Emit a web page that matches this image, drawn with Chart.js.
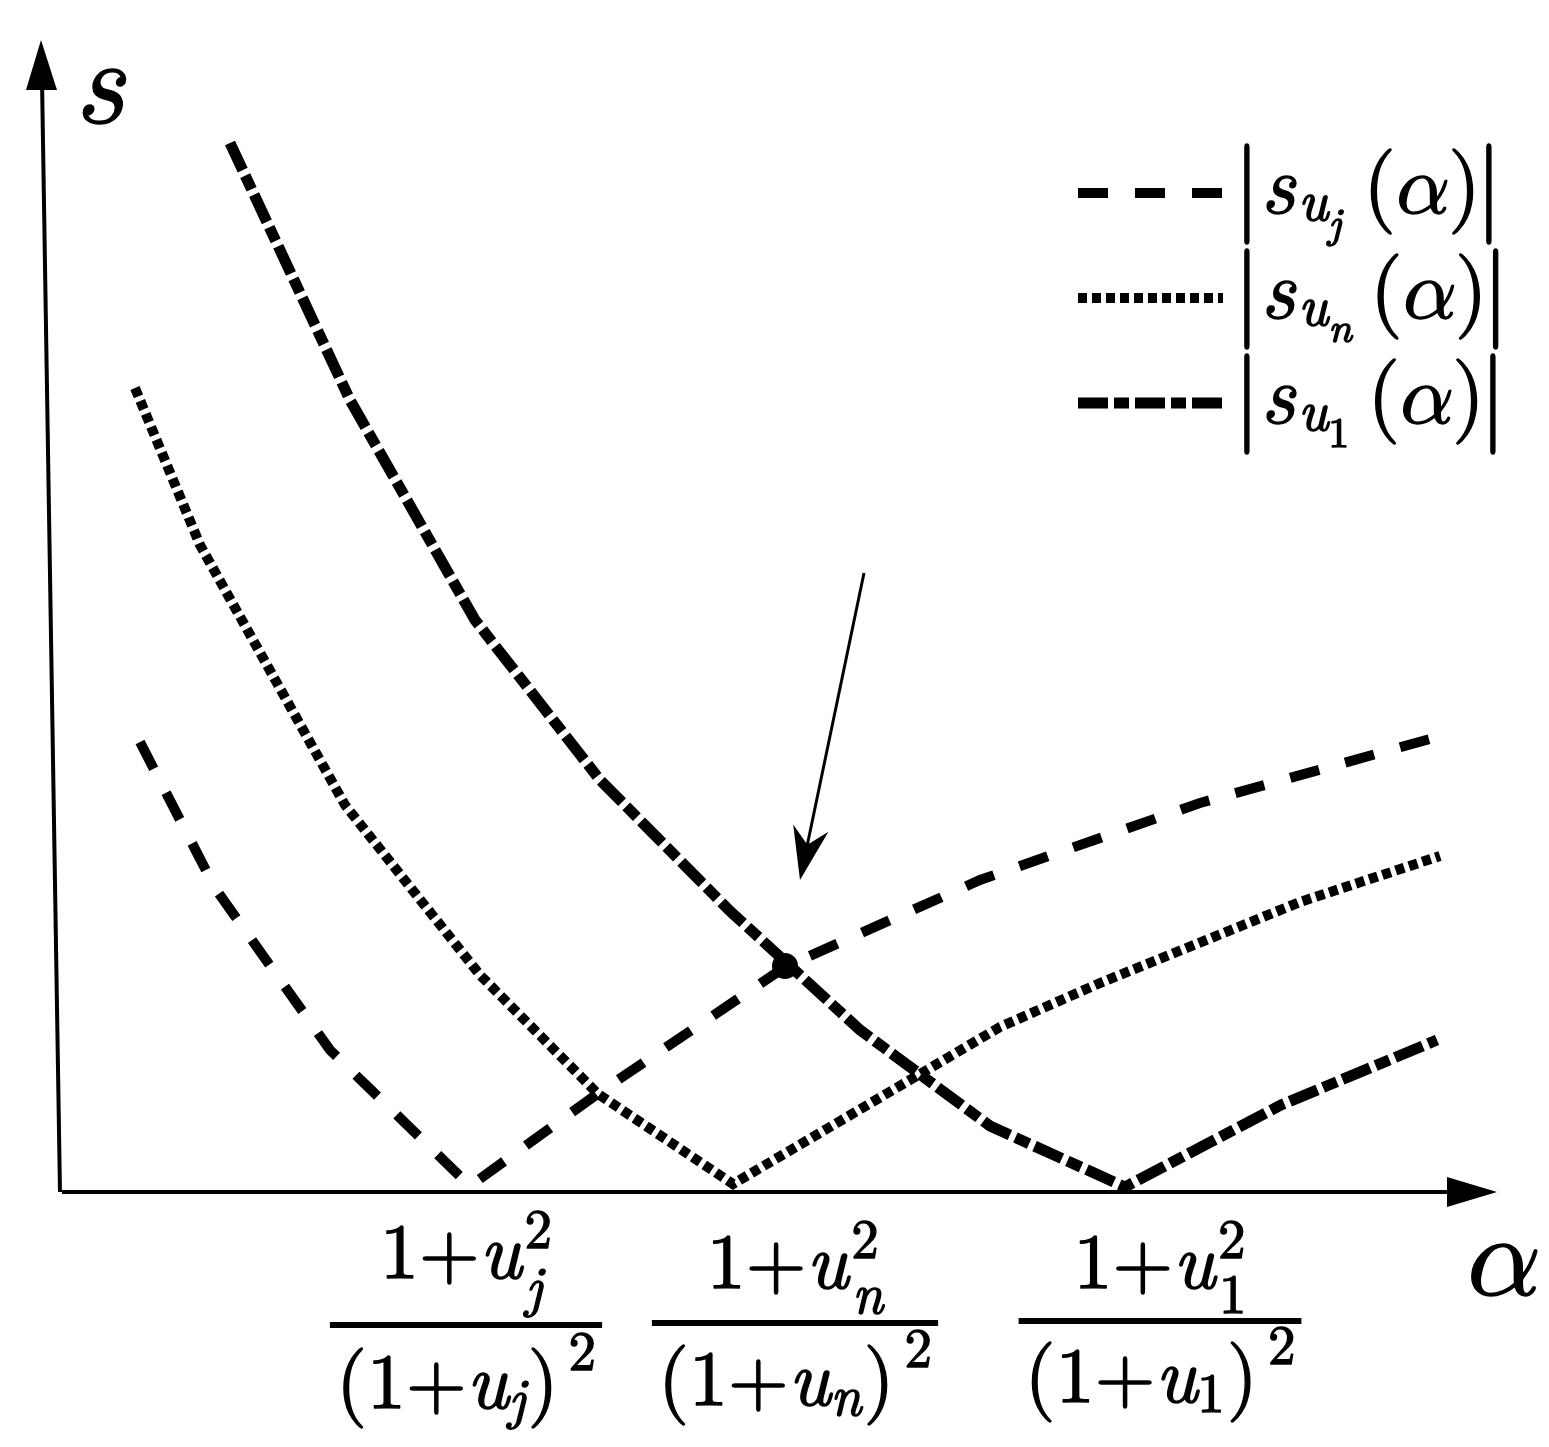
<!DOCTYPE html>
<html>
<head>
<meta charset="utf-8">
<script src="https://cdn.jsdelivr.net/npm/chart.js@4.4.1/dist/chart.umd.min.js"></script>
<style>
  html, body { margin: 0; padding: 0; background: #fff; }
  #wrap { width: 1549px; height: 1447px; position: relative; }
  .warm { position: absolute; left: -9999px; top: 0; font-size: 40px; }
</style>
</head>
<body>
<div id="wrap"><canvas id="c" width="1549" height="1447"></canvas></div>
<span class="warm" style="font-family:'Latin Modern Roman'">1+(s)|</span>
<span class="warm" style="font-family:'Latin Modern Roman';font-style:italic">suj</span>
<span class="warm" style="font-family:'Latin Modern Math'">&#x1D6FC;</span>
<span class="warm" style="font-family:'Liberation Serif';font-style:italic">&alpha;</span>
<script>
// |s_uj(alpha)|  (dashed)
var ujAlpha = [0.80, 1.55, 2.70, 4.10, 5.40, 7.25, 9.20, 11.40, 13.77];
var ujS     = [4.50, 3.04, 1.42, 0.06, 1.00, 2.25, 3.12, 3.89, 4.55];
// |s_un(alpha)|  (dotted)
var unAlpha = [0.75, 1.40, 2.85, 4.20, 5.38, 6.73, 9.40, 10.40, 12.40, 13.80];
var unS     = [8.04, 6.47, 3.87, 2.17, 0.98, 0.08, 1.65, 2.09, 2.90, 3.36];
// |s_u1(alpha)|  (dash-dot)
var u1Alpha = [1.70, 2.90, 4.15, 5.40, 6.70, 8.00, 9.30, 10.65, 12.21, 13.77];
var u1S     = [10.49, 7.92, 5.72, 4.12, 2.81, 1.62, 0.66, 0.05, 0.87, 1.52];
// marked crossing point
var crossAlpha = [7.25];
var crossS     = [2.26];
// tick labels on the alpha axis
var tickAlpha = [4.06, 7.35, 11.00];
var tickSub   = ['j', 'n', '1'];

var FONT = '"Latin Modern Roman"';
// alpha: math italic from Latin Modern Math when present, else Liberation Serif italic
var ALPHA = { t: '\u03b1', fam: '"Liberation Serif"', it: true };

function pickAlpha(ctx) {
  var probe = '\uD835\uDEFC\uD835\uDEFC\uD835\uDEFC';
  ctx.font = '80px "Latin Modern Math"';
  var w1 = ctx.measureText(probe).width;
  ctx.font = '80px "NoSuchFontAtAll"';
  var w2 = ctx.measureText(probe).width;
  if (Math.abs(w1 - w2) > 0.5) ALPHA = { t: '\uD835\uDEFC', fam: '"Latin Modern Math"', it: false };
}

function pts(xs, ys) {
  var out = [];
  for (var i = 0; i < xs.length; i++) out.push({x: xs[i], y: ys[i]});
  return out;
}

function P(t, it, s, dy, dx, same, fam) {
  return {t: t, it: it, s: s, dy: dy || 0, dx: dx || 0, same: !!same, fam: fam || FONT};
}
function A(s, dy, dx) {
  return P(ALPHA.t, ALPHA.it, s, dy, dx, false, ALPHA.fam);
}

// lays out a run of glyph pieces, returns its width
function run(ctx, parts, x, y, draw) {
  var lastStart = x, right = x;
  parts.forEach(function(p) {
    ctx.font = (p.it ? 'italic ' : '') + p.s + 'px ' + p.fam;
    var start = (p.same ? lastStart : right) + p.dx;
    var w = ctx.measureText(p.t).width;
    if (draw) {
      ctx.fillText(p.t, start, y + p.dy);
      ctx.strokeText(p.t, start, y + p.dy);
    }
    lastStart = start;
    right = p.same ? Math.max(right, start + w) : start + w;
  });
  return right - x;
}

function numParts(sub) {
  return [P('1', 0, 78), P('+', 0, 78), P('u', 1, 78),
          P('2', 0, 55, -30, 3), P(sub, sub !== '1', 55, sub === 'j' ? 28 : 25, 1, true)];
}
function denParts(sub) {
  return [P('(', 0, 80), P('1', 0, 78), P('+', 0, 78), P('u', 1, 78),
          P(sub, sub !== '1', 55, 10, 0), P(')', 0, 80, 0, 2), P('2', 0, 55, -38, 10)];
}
function legParts(sub) {
  return [P('|', 0, 100, 6), P('s', 1, 84, 0, 0), P('u', 1, 56, 7, 3),
          P(sub, sub !== '1', 42, 24, 0), P('(', 0, 85, 0, sub === 'j' ? 22 : 18), A(84, 0, 0),
          P(')', 0, 85, 0, -2), P('|', 0, 100, 6, -6)];
}

function arrowHead(ctx, x0, y0, x1, y1, len, notch, half) {
  var dx = x1 - x0, dy = y1 - y0, l = Math.sqrt(dx * dx + dy * dy);
  var ux = dx / l, uy = dy / l, nx = -uy, ny = ux;
  ctx.beginPath();
  ctx.moveTo(x1, y1);
  ctx.lineTo(x1 - ux * len + nx * half, y1 - uy * len + ny * half);
  ctx.lineTo(x1 - ux * notch, y1 - uy * notch);
  ctx.lineTo(x1 - ux * len - nx * half, y1 - uy * len - ny * half);
  ctx.closePath();
  ctx.fill();
}

var sketch = {
  id: 'sketch',
  beforeDatasetsDraw: function(chart) {
    var ctx = chart.ctx, a = chart.chartArea;
    ctx.save();
    ctx.strokeStyle = '#000';
    ctx.fillStyle = '#000';
    ctx.lineWidth = 4;
    ctx.setLineDash([]);
    // alpha axis
    ctx.beginPath();
    ctx.moveTo(a.left + 2, a.bottom);
    ctx.lineTo(a.right - 40, a.bottom);
    ctx.stroke();
    ctx.beginPath();
    ctx.moveTo(a.right, a.bottom);
    ctx.lineTo(a.right - 50, a.bottom - 15);
    ctx.lineTo(a.right - 50, a.bottom + 15);
    ctx.closePath();
    ctx.fill();
    // s axis (slightly leaning)
    ctx.beginPath();
    ctx.moveTo(a.left, a.bottom);
    ctx.lineTo(a.left - 18, a.top + 40);
    ctx.stroke();
    ctx.beginPath();
    ctx.moveTo(a.left - 19, a.top);
    ctx.lineTo(a.left - 34, a.top + 50);
    ctx.lineTo(a.left - 3, a.top + 50);
    ctx.closePath();
    ctx.fill();
    ctx.restore();
  },
  afterDraw: function(chart) {
    var ctx = chart.ctx, a = chart.chartArea;
    var xs = chart.scales.x, ys = chart.scales.y;
    ctx.save();
    ctx.fillStyle = '#000';
    ctx.strokeStyle = '#000';
    ctx.lineWidth = 1.4;
    ctx.lineJoin = 'round';
    ctx.textBaseline = 'alphabetic';

    // axis names
    run(ctx, [P('s', 1, 123)], a.left + 14, a.top + 83, true);
    run(ctx, [A(116)], a.right - 30, a.bottom + 103, true);

    // fraction tick labels
    tickAlpha.forEach(function(v, i) {
      var cx = xs.getPixelForValue(v);
      var sub = tickSub[i];
      var np = numParts(sub), dp = denParts(sub);
      var nw = run(ctx, np, 0, 0, false), dw = run(ctx, dp, 0, 0, false);
      var bw = Math.max(nw, dw) + 12;
      var lift = i * 2;
      run(ctx, np, cx - nw / 2, a.bottom + (sub === 'j' ? 86 : 96), true);
      ctx.fillRect(cx - bw / 2, a.bottom + 130 - lift, bw, 6);
      run(ctx, dp, cx - dw / 2, a.bottom + 216 - lift * 1.5, true);
    });

    // arrow pointing at the crossing
    var x0 = xs.getPixelForValue(8.04), y0 = ys.getPixelForValue(6.19);
    var x1 = xs.getPixelForValue(7.40), y1 = ys.getPixelForValue(3.12);
    ctx.lineWidth = 3;
    ctx.setLineDash([]);
    ctx.beginPath();
    ctx.moveTo(x0, y0);
    ctx.lineTo(x1 + (x0 - x1) * 0.1, y1 + (y0 - y1) * 0.1);
    ctx.stroke();
    arrowHead(ctx, x0, y0, x1, y1, 53, 36, 18);

    // legend
    var subs = ['j', 'n', '1'];
    [0, 1, 2].forEach(function(r) {
      var ds = chart.data.datasets[r];
      var base = 213 + r * 105;
      ctx.save();
      ctx.lineWidth = ds.borderWidth;
      ctx.lineCap = 'butt';
      ctx.setLineDash(ds.borderDash);
      ctx.beginPath();
      ctx.moveTo(1078, base - 20);
      ctx.lineTo(1223, base - 20);
      ctx.stroke();
      ctx.restore();
      ctx.lineWidth = 1.4;
      run(ctx, legParts(subs[r]), 1233, base, true);
    });
    ctx.restore();
  }
};

var line = function(label, xs, ys, dash, width) {
  return {
    label: label,
    data: pts(xs, ys),
    borderColor: '#000',
    borderWidth: width,
    borderDash: dash,
    borderCapStyle: 'butt',
    borderJoinStyle: 'miter',
    pointRadius: 0,
    tension: 0,
    fill: false,
    order: 1
  };
};

var chart = null;
function makeChart() {
  var ctx = document.getElementById('c').getContext('2d');
  pickAlpha(ctx);
  chart = new Chart(ctx, {
    type: 'line',
    data: {
      datasets: [
        line('|s_uj(\u03b1)|', ujAlpha, ujS, [30, 27], 10),
        line('|s_un(\u03b1)|', unAlpha, unS, [9, 5], 10),
        line('|s_u1(\u03b1)|', u1Alpha, u1S, [30, 6, 15, 6], 11),
        {
          label: 'crossing',
          type: 'scatter',
          data: pts(crossAlpha, crossS),
          pointRadius: 13,
          pointBackgroundColor: '#000',
          pointBorderWidth: 0,
          order: 0
        }
      ]
    },
    options: {
      responsive: false,
      animation: false,
      devicePixelRatio: 1,
      events: [],
      layout: { padding: { left: 60, top: 40, right: 52, bottom: 255 } },
      scales: {
        x: { type: 'linear', min: 0, max: 14.37, display: false },
        y: { type: 'linear', min: 0, max: 11.52, display: false }
      },
      plugins: {
        legend: { display: false },
        tooltip: { enabled: false }
      }
    },
    plugins: [sketch]
  });
}

var started = false;
function start() {
  if (started) return;
  started = true;
  makeChart();
  setTimeout(function() { chart.draw(); }, 300);
}
Promise.all([
  document.fonts.load('78px "Latin Modern Roman"'),
  document.fonts.load('italic 78px "Latin Modern Roman"'),
  document.fonts.load('78px "Latin Modern Math"'),
  document.fonts.load('italic 78px "Liberation Serif"')
]).then(function() { return document.fonts.ready; }).then(start, start);
setTimeout(start, 1500);
</script>
</body>
</html>
